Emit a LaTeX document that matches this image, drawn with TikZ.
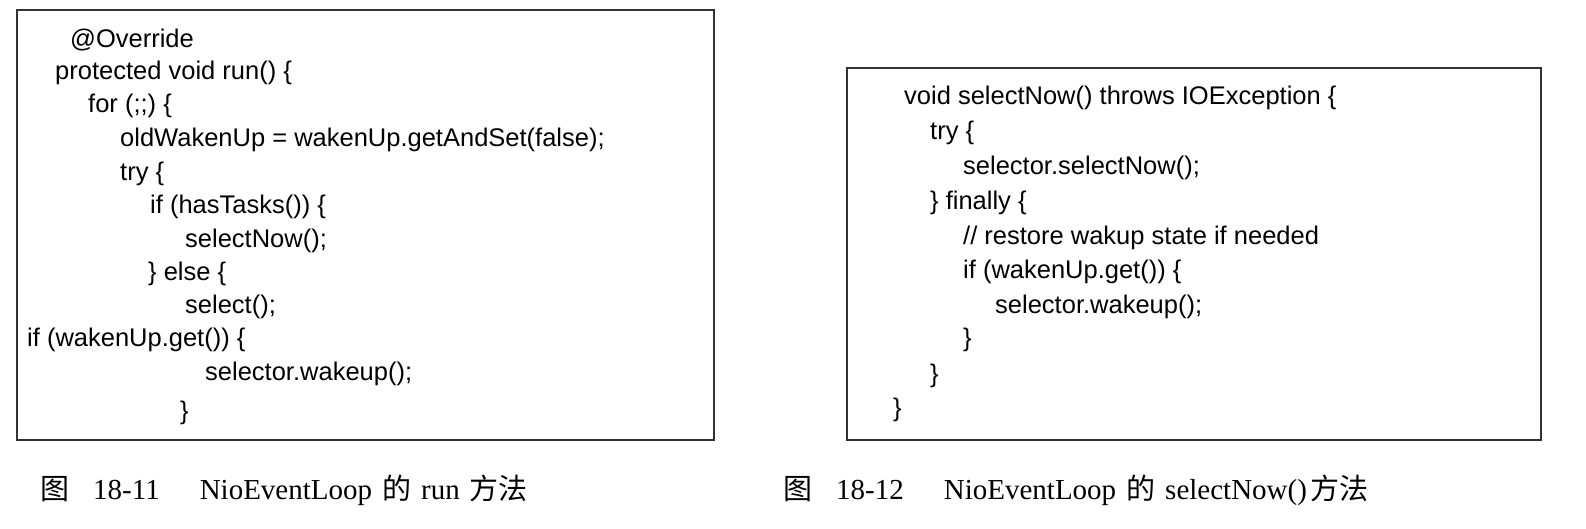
\documentclass[tikz,border=0pt]{standalone}
\usepackage{fontspec}
\setmainfont{Liberation Sans}
\newfontfamily\cjk{Noto Sans CJK SC}
\newfontfamily\capser{Liberation Serif}
\begin{document}
\begin{tikzpicture}[x=1pt,y=-1pt,
  code/.style={anchor=west,inner sep=0pt,font=\fontsize{25.5}{28}\selectfont},
  frame/.style={draw=black!80,line width=1.2pt},
  captext/.style={anchor=west,inner sep=0pt,font=\fontsize{29}{32}\selectfont\capser}]
\useasboundingbox[fill=white] (0,0) rectangle (1586,528);
\draw[frame] (17,10) rectangle (714,440);
\draw[frame] (847,68) rectangle (1541,440);
\node[code] (l1) at (70,40) {@Override};
\node[code] (l2) at (55,73) {protected void run() \{};
\node[code] (l3) at (88,106) {for (;;) \{};
\node[code] (l4) at (120,140) {oldWakenUp = wakenUp.getAndSet(false);};
\node[code] (l5) at (120,174) {try \{};
\node[code] (l6) at (150,207) {if (hasTasks()) \{};
\node[code] (l7) at (185,241) {selectNow();};
\node[code] (l8) at (148,274) {\} else \{};
\node[code] (l9) at (185,307) {select();};
\node[code] (l10) at (27,340) {if (wakenUp.get()) \{};
\node[code] (l11) at (205,374) {selector.wakeup();};
\node[code] (l12) at (180,413) {\}};
\node[code] (r1) at (904,98) {void selectNow() throws IOException \{};
\node[code] (r2) at (930,133) {try \{};
\node[code] (r3) at (963,168) {selector.selectNow();};
\node[code] (r4) at (930,203) {\} finally \{};
\node[code] (r5) at (963,238) {// restore wakup state if needed};
\node[code] (r6) at (963,272) {if (wakenUp.get()) \{};
\node[code] (r7) at (995,307) {selector.wakeup();};
\node[code] (r8) at (963,340) {\}};
\node[code] (r9) at (930,376) {\}};
\node[code] (r10) at (893,410) {\}};
\node[captext] (c1) at (40,490) {{\cjk 图}\hspace{24pt}18-11\hspace{40pt}NioEventLoop\hspace{10pt}{\cjk 的}\hspace{10pt}run\hspace{10pt}{\cjk 方法}};
\node[captext] (c2) at (783,490) {{\cjk 图}\hspace{24pt}18-12\hspace{40pt}NioEventLoop\hspace{10pt}{\cjk 的}\hspace{10pt}selectNow()\hspace{4pt}{\cjk 方法}};
\end{tikzpicture}
\end{document}
